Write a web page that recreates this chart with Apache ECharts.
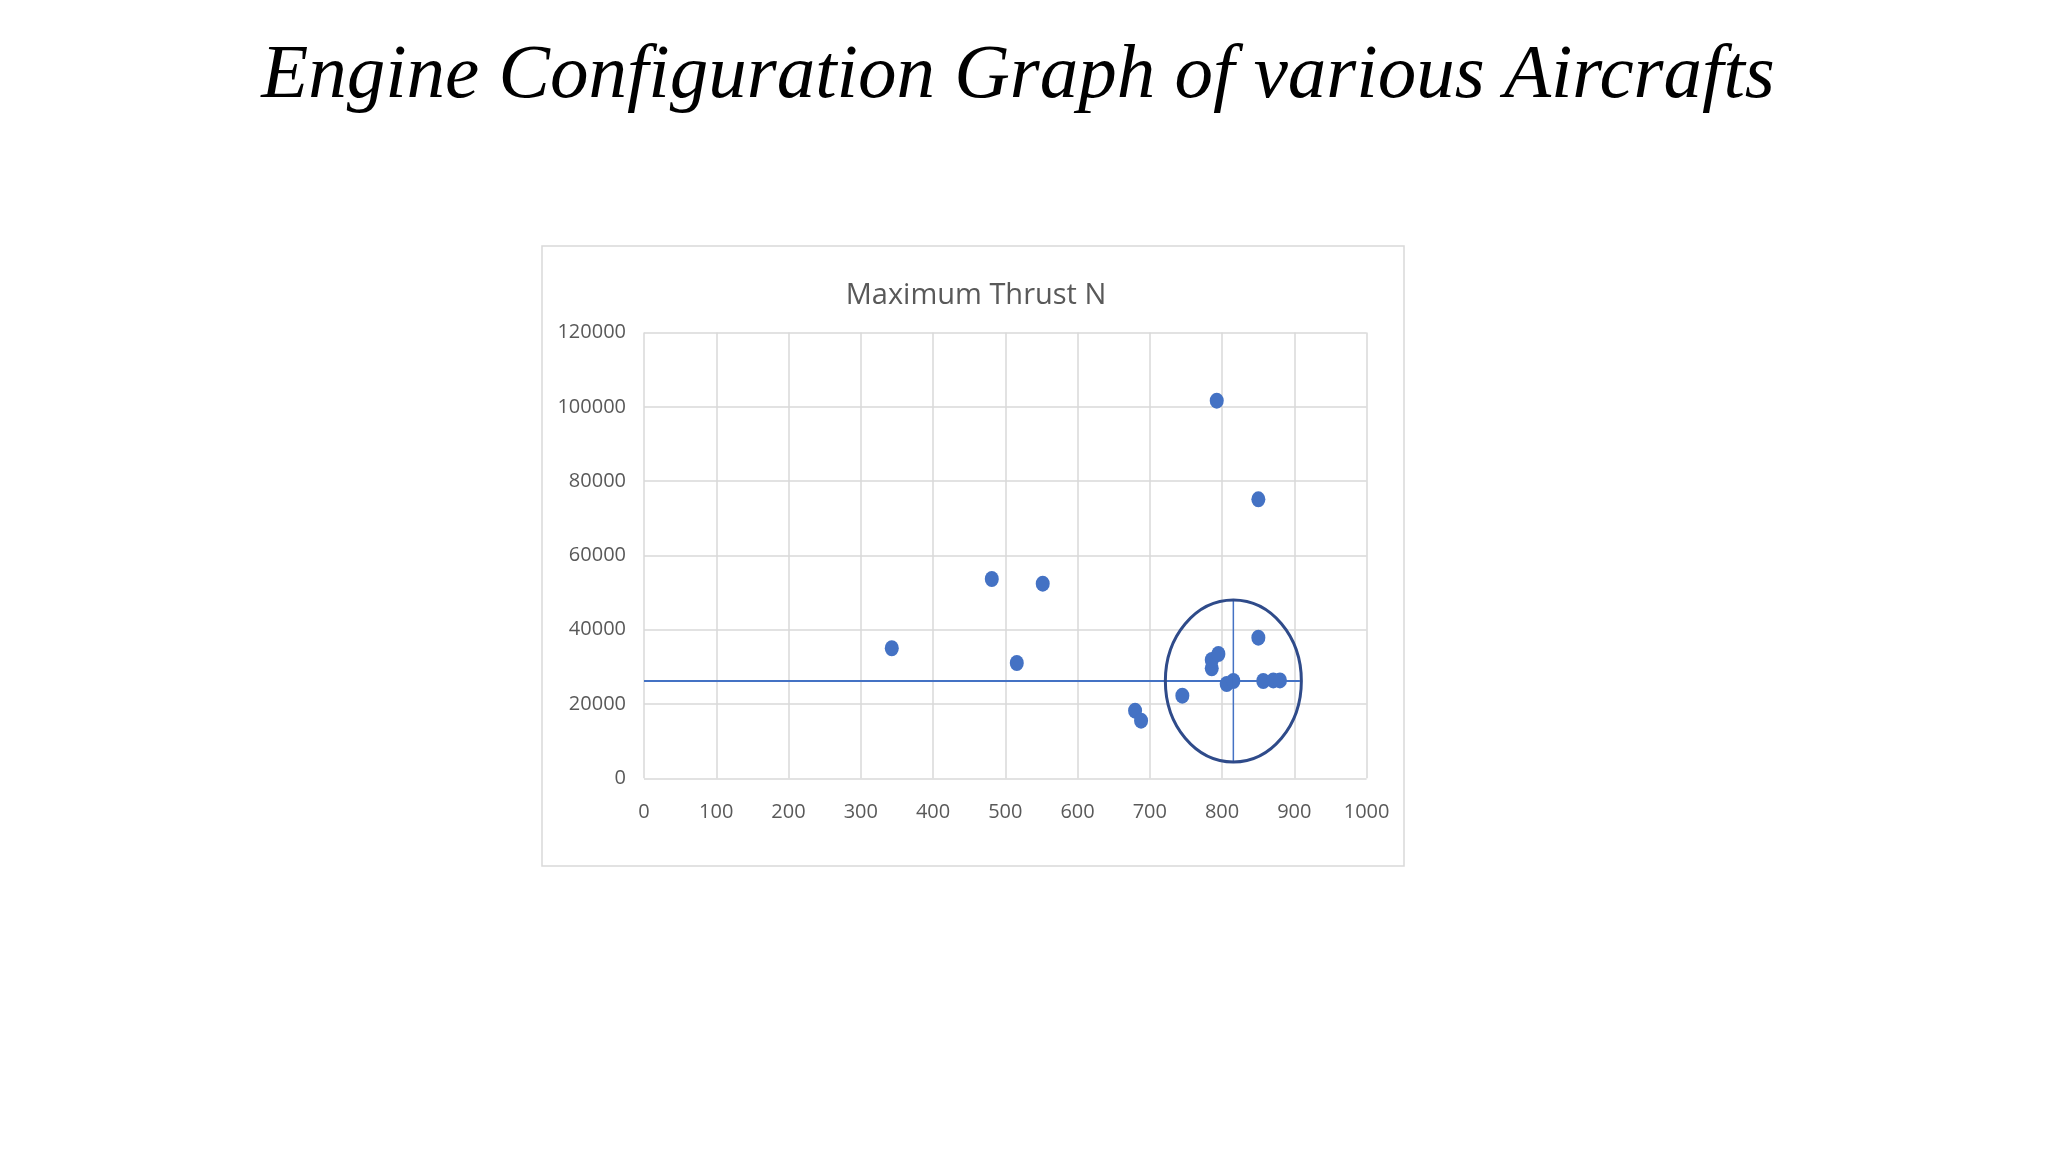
<!DOCTYPE html>
<html><head><meta charset="utf-8">
<script src="https://cdn.jsdelivr.net/npm/echarts@6/dist/echarts.min.js"></script>
<style>html,body{margin:0;background:#fff}#c{width:2048px;height:1152px}</style></head>
<body><div id="c"></div>
<script>
const speeds = [792.6, 850.2, 481.3, 551.8, 342.9, 515.9, 679.6, 687.9, 745, 785.7, 785.7, 794.9, 850.2, 806.4, 815.6, 857, 870.9, 880.1];
const thrusts = [101650, 75100, 53650, 52400, 35000, 31040, 18200, 15500, 22240, 29600, 31840, 33460, 37850, 25380, 26190, 26190, 26350, 26350];
const meanSpeed = 815.6, meanThrust = 26200;
const hLine = [[0, meanThrust], [907.7, meanThrust]];
const vLine = [[meanSpeed, 48000], [meanSpeed, 4470]];
const pts = speeds.map((s, i) => [s, thrusts[i]]);
const chart = echarts.init(document.getElementById('c'));
chart.setOption({
  animation: false,
  title: [
    {text: 'Engine Configuration Graph of various Aircrafts', left: 1013, textAlign: 'center', top: 33,
     textStyle: {fontFamily: 'Liberation Serif', fontStyle: 'italic', fontWeight: 'normal', fontSize: 77, color: '#000'}},
    {text: 'Maximum Thrust N', left: 971, textAlign: 'center', top: 276,
     textStyle: {fontFamily: 'Open Sans', fontWeight: 'normal', fontSize: 29, color: '#595959'}}
  ],
  grid: {left: 644, top: 332.5, width: 722.6, height: 445.8},
  xAxis: {type: 'value', min: 0, max: 1000, interval: 100,
    axisLine: {show: false}, axisTick: {show: false},
    splitLine: {lineStyle: {color: '#d9d9d9', width: 1.5}},
    axisLabel: {color: '#595959', fontSize: 20, fontFamily: 'Open Sans', margin: 24, formatter: v => String(v)}},
  yAxis: {type: 'value', min: 0, max: 120000, interval: 20000,
    axisLine: {show: false}, axisTick: {show: false},
    splitLine: {lineStyle: {color: '#d9d9d9', width: 1.5}},
    axisLabel: {color: '#595959', fontSize: 20, fontFamily: 'Open Sans', margin: 18, formatter: v => String(v)}},
  series: [
    {type: 'line', data: hLine, symbol: 'none', lineStyle: {color: '#4472c4', width: 2}},
    {type: 'line', data: vLine, symbol: 'none', lineStyle: {color: '#4472c4', width: 1.5}},
    {type: 'scatter', data: pts, symbol: 'circle', symbolSize: [14, 16], itemStyle: {color: '#4472c4', opacity: 1}}
  ]
});
const c = chart.convertToPixel({gridIndex: 0}, [meanSpeed, meanThrust]);
chart.setOption({graphic: [
  {type: 'rect', shape: {x: 542, y: 246, width: 862, height: 620}, style: {fill: 'none', stroke: '#d9d9d9', lineWidth: 1.5}, z: -1},
  {type: 'ellipse', shape: {cx: c[0], cy: c[1], rx: 68, ry: 81}, style: {fill: 'none', stroke: '#2f4b8a', lineWidth: 3}, z: 10}
]});
</script></body></html>
